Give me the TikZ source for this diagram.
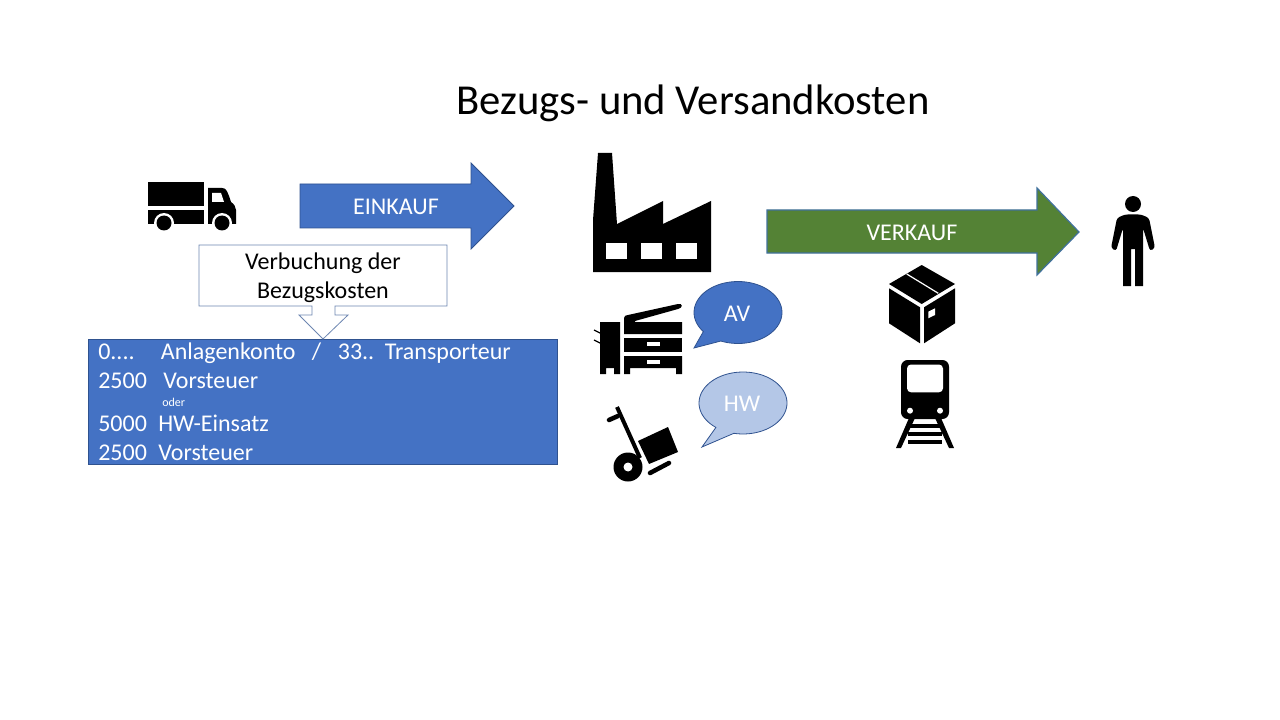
\documentclass[tikz,border=0pt]{standalone}
\usepackage{fontspec}
\usepackage{xcolor}
\setmainfont{Carlito}
\definecolor{blueFill}{HTML}{4472C4}
\definecolor{blueLine}{HTML}{2F528F}
\definecolor{blueLight}{HTML}{B4C7E7}
\definecolor{greenFill}{HTML}{548235}
\definecolor{greenLine}{HTML}{41719C}
\tikzset{
	bluebox/.style={fill=blueFill,draw=blueLine,line width=0.6pt},
	greenbox/.style={fill=greenFill,draw=greenLine,line width=0.9pt},
	whitebox/.style={fill=white,draw=blueLine!70!white,line width=0.6pt},
	label/.style={text=white,font=\fontsize{18}{22}\selectfont},
	booking/.style={text=white,anchor=base west,inner sep=0pt,font=\fontsize{18}{22}\selectfont},
	icon/.style={fill=black,draw=none},
	gap/.style={fill=white,draw=none}
}
\begin{document}
\begin{tikzpicture}[x=0.75pt,y=-0.75pt]
	\useasboundingbox (0,0) rectangle (1280,720);
	\node (title) at (693,103) {\fontsize{32}{38}\selectfont Bezugs- und Versandkosten};

	% truck
	\fill[icon] (148,182) rectangle (204,206);
	\fill[icon] (148,210) rectangle (204,224);
	\fill[icon] (208,188) -- (222,188) .. controls (226,188) and (227,191) .. (229,196) -- (231,202) .. controls (234,204) and (236,207) .. (236,210) -- (236,224) -- (208,224) -- cycle;
	\fill[gap] (212,193) -- (221,193) -- (224,202) -- (212,202) -- cycle;
	\foreach \i in {164,222}{
		\fill[gap] (\i,223) circle (10);
		\fill[icon] (\i,223) circle (7.5);
	}

	% arrows
	\draw[bluebox] (300,184) -- (471,184) -- (471,163) -- (514,206) -- (471,249) -- (471,228) -- (300,228) -- cycle;
	\node[label] (einkauf) at (396,206.5) {EINKAUF};
	\draw[greenbox] (767,210) -- (1037,210) -- (1037,188) -- (1079,232) -- (1037,275) -- (1037,253) -- (767,253) -- cycle;
	\node[label] (verkauf) at (912,232.5) {VERKAUF};

	% booking
	\draw[bluebox] (88,339) rectangle (557,464);
	\draw[whitebox] (199,245) -- (447,245) -- (447,306) -- (335,306) -- (335,315) -- (348,315) -- (323,339) -- (299,315) -- (312,315) -- (312,306) -- (199,306) -- cycle;
	\node[align=center,font=\fontsize{18}{21.8}\selectfont] (verbuchung) at (323,278) {Verbuchung der\\Bezugskosten};
	\node[booking] (zeileA) at (98,359) {\makebox[47pt][l]{0....}\makebox[113.25pt][l]{Anlagenkonto}\makebox[19.5pt][l]{/}\makebox[35.25pt][l]{33..}Transporteur};
	\node[booking] (zeileB) at (98,388) {\makebox[48.75pt][l]{2500}Vorsteuer};
	\node[booking,font=\fontsize{9}{11}\selectfont] (oder) at (162,406) {oder};
	\node[booking] (zeileC) at (98,431) {\makebox[45pt][l]{5000}HW-Einsatz};
	\node[booking] (zeileD) at (98,460) {\makebox[45pt][l]{2500}Vorsteuer};

	% factory
	\fill[icon] (598,153) -- (612,153) -- (617,224) -- (663,201) -- (663,224) -- (711,201) -- (711,272) -- (593,272) -- (593,220) -- cycle;
	\foreach \i in {606,641,676}{
		\fill[gap] (\i,243) rectangle +(21,16);
	}

	% copier
	\fill[icon] (600,322) -- (620,322) -- (620,374) -- (614,374) -- (614,368) -- (606,368) -- (606,374) -- (600,374) -- cycle;
	\fill[icon] (624,334) -- (624,318) .. controls (624,316) and (626,315) .. (628,315) -- (678,304) .. controls (683,303) and (683,308) .. (678,309) -- (635,321) -- (635,322) -- (682,322) -- (682,334) -- cycle;
	\fill[icon] (624,338) rectangle (682,352);
	\fill[icon] (624,356) -- (682,356) -- (682,374) -- (676,374) -- (676,368) -- (630,368) -- (630,374) -- (624,374) -- cycle;
	\fill[gap] (647,342) rectangle (660,346);
	\fill[gap] (647,360) rectangle (660,364);
	\draw[line width=0.9pt] (594,330) -- (600,333);
	\draw[line width=0.9pt] (594,340) -- (600,343);

	% hand truck
	\draw[line width=3pt] (617,407) -- (640,458);
	\draw[line width=3.4pt,line cap=round] (609,420) -- (618,416);
	\fill[icon] (638,441) -- (668,427) -- (678,452) -- (649,464) -- cycle;
	\fill[icon] (628,467) circle (14.5);
	\fill[gap] (628,467) circle (4.5);
	\draw[line width=3.4pt,line cap=round] (650,473) -- (669,463);

	% speech bubbles
	\foreach \cx/\cy/\ta/\tb/\tipx/\tipy/\col/\txt in {738/312.5/142/473/694/348/blueFill/AV, 743/403/128/462/702/447/blueLight/HW}{
		\draw[fill=\col,draw=blueLine,line width=0.6pt] plot[domain=\ta:\tb,samples=70] ({\cx+44*cos(\x)},{\cy+31*sin(\x)}) -- (\tipx,\tipy) -- cycle;
		\node[label] (\txt) at (\cx-1,\cy+1) {\txt};
	}

	% package
	\fill[icon] (921.7,265) -- (955,284) -- (921.7,304) -- (889,284) -- cycle;
	\draw[draw=white,line width=0.9pt] (906.7,274) -- (938.3,293.3);
	\fill[icon] (889,288.3) -- (920,307.3) -- (920,343.3) -- (889,323.3) -- cycle;
	\fill[icon] (924,307.3) -- (955,288.3) -- (955,323.3) -- (924,343.3) -- cycle;
	\fill[gap] (928.3,311.7) -- (935,308.3) -- (935,315) -- (928.3,318.3) -- cycle;

	% train
	\fill[icon,rounded corners=5] (901,360) -- (949,360) -- (949,419) -- (901,419) -- cycle;
	\fill[gap,rounded corners=3] (907,364.5) -- (943,364.5) -- (943,392.3) -- (907,392.3) -- cycle;
	\foreach \i in {910,940}{
		\fill[gap] (\i,410.7) circle (3);
	}
	\fill[icon] (909,418) -- (915,418) -- (901,448) -- (896,448) -- cycle;
	\fill[icon] (935,418) -- (941,418) -- (954,448) -- (949,448) -- cycle;
	\foreach \i in {424,432,440}{
		\fill[icon] (908,\i) rectangle (942,\i+4);
	}

	% customer
	\fill[icon] (1133,204) circle (8);
	\fill[icon,rounded corners=2] (1125,214.5) -- (1141,214.5) -- (1149,218) -- (1155,248) -- (1150,251) -- (1143,228) -- (1143,240) -- (1123,240) -- (1123,228) -- (1116,251) -- (1111,248) -- (1117,218) -- cycle;
	\fill[icon] (1123,238) -- (1143,238) -- (1143,286) -- (1135,286) -- (1135,249) -- (1131,249) -- (1131,286) -- (1123,286) -- cycle;
\end{tikzpicture}
\end{document}
